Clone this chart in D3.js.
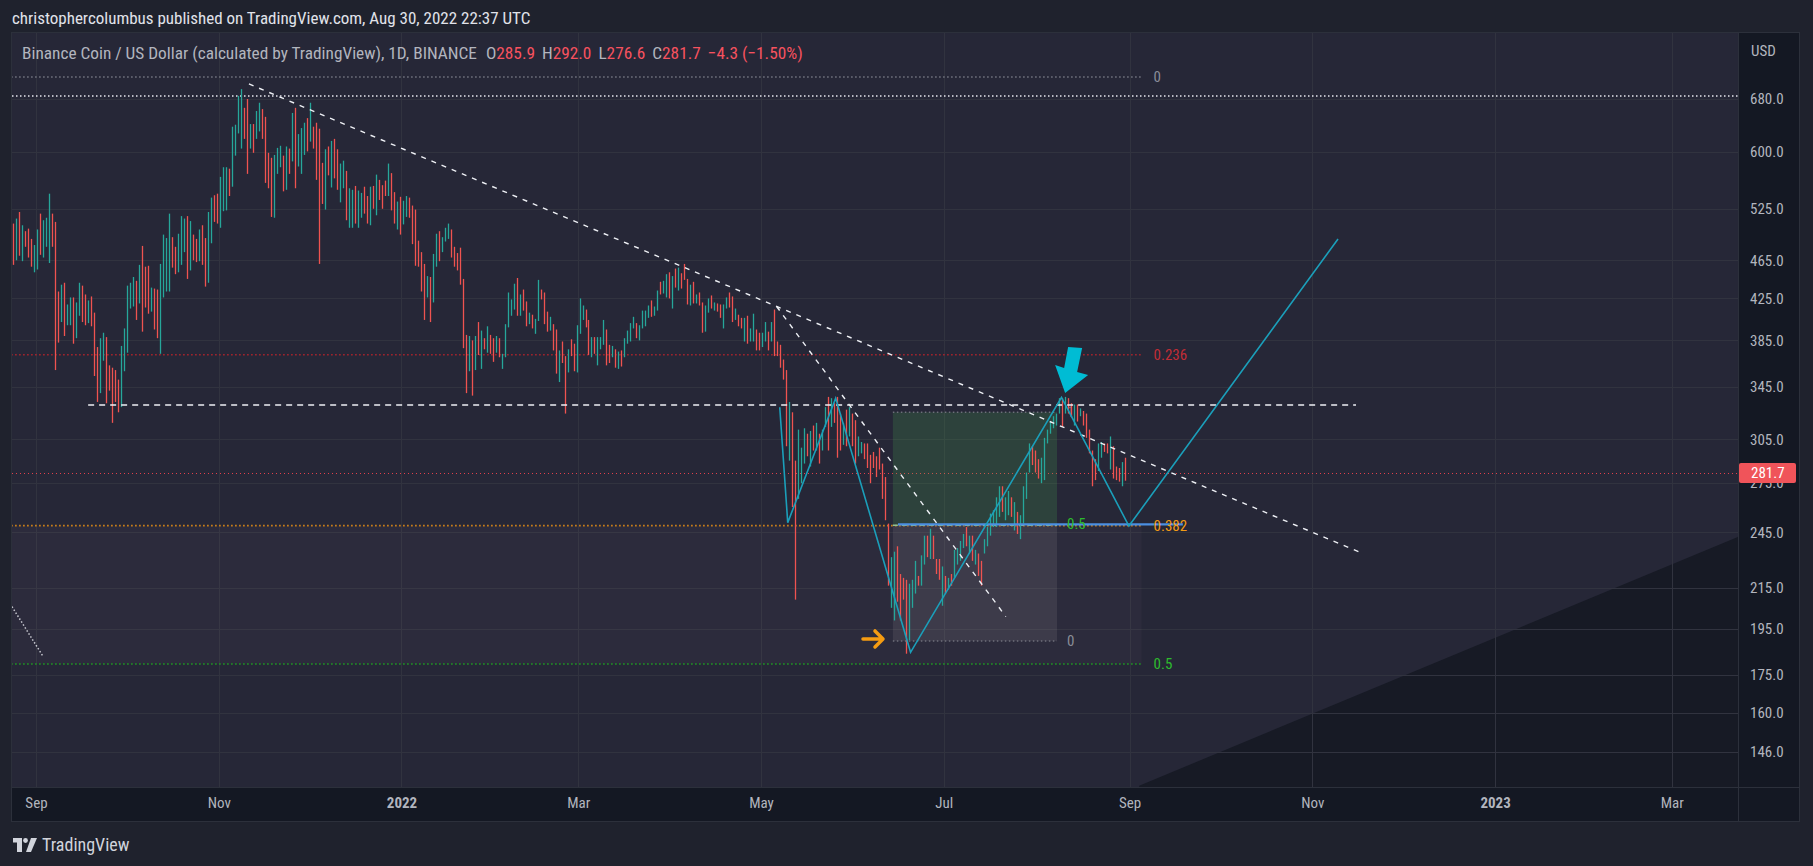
<!DOCTYPE html>
<html>
<head>
<meta charset="utf-8">
<script src="https://cdn.jsdelivr.net/npm/d3@7"></script>
<style>
  html, body { margin: 0; padding: 0; background: #1f222d; }
  svg { display: block; font-family: "Liberation Sans Narrow", "Roboto Condensed", Roboto, sans-serif; }
</style>
</head>
<body>
<svg id="chart" width="1813" height="866"></svg>
<script>
// ---- data ----
var firstBarDay = "2021-08-24";

var barHigh = [
  507,513,521,505,498,501,489,482,500,519,
  511,514,544,519,509,432,439,441,419,426,
  426,421,441,438,429,423,427,411,379,387,
  392,388,363,361,359,351,380,396,438,441,
  447,443,460,481,458,459,436,435,434,461,
  494,490,519,491,480,495,516,513,516,510,
  494,489,500,505,490,521,539,542,544,566,
  579,579,577,637,640,685,696,666,680,641,
  641,661,674,664,652,599,592,596,606,609,
  595,608,605,658,666,626,635,643,650,674,
  637,643,634,585,604,608,616,619,604,584,
  588,574,551,549,554,548,545,553,541,553,
  554,569,562,555,561,584,571,546,534,540,
  535,541,539,529,524,487,474,461,448,447,
  472,495,498,491,502,507,500,480,473,479,
  445,390,389,385,389,402,394,387,398,390,
  387,389,387,373,400,431,424,440,446,429,
  434,422,411,409,405,444,434,431,412,407,
  400,395,376,384,371,377,386,382,399,425,
  418,414,404,388,388,388,388,404,395,381,
  380,377,375,376,387,394,401,407,401,399,
  413,413,418,423,417,433,442,443,450,452,
  448,456,457,451,461,445,439,442,429,431,
  421,418,425,428,421,420,419,419,426,431,
  427,415,409,406,406,408,396,410,395,392,
  392,402,393,402,414,384,381,368,359,333,
  325,290,312,299,313,309,311,315,317,309,
  312,329,337,336,332,337,324,317,327,329,
  324,319,307,303,302,302,294,296,293,299,
  288,279,250,231,234,237,222,220,219,217,
  219,229,221,232,243,243,247,243,230,230,
  226,221,220,222,235,236,240,244,248,243,
  243,235,233,229,241,248,256,258,266,273,
  273,266,270,266,263,257,255,273,282,302,
  300,297,291,292,306,312,318,322,324,336,
  336,337,336,332,331,331,328,326,324,312,
  297,291,302,303,302,302,307,300,286,285,
  289,292
];

var barLow = [
  460,465,470,464,480,468,458,452,455,471,
  468,480,462,480,359,383,402,389,399,399,
  382,387,408,402,399,401,398,354,333,340,
  367,332,342,317,333,325,329,358,374,415,
  417,404,420,393,416,410,412,395,387,373,
  426,432,432,457,450,452,460,474,445,454,
  465,463,464,460,437,441,484,509,507,502,
  522,523,541,553,595,627,605,619,570,605,
  599,619,630,619,558,551,515,514,570,579,
  547,549,570,587,551,580,570,596,601,615,
  605,562,461,531,524,568,552,564,549,533,
  551,511,502,502,507,502,514,519,507,505,
  525,517,536,525,541,541,523,507,500,494,
  506,515,514,483,459,458,432,404,426,402,
  421,458,464,474,486,489,468,458,454,439,
  378,340,358,338,359,372,360,377,374,373,
  366,374,370,360,370,397,408,414,408,408,
  413,398,400,396,391,403,424,400,393,394,
  376,356,349,365,324,357,371,358,357,391,
  404,397,372,370,373,363,377,381,363,365,
  370,361,360,362,370,382,384,396,387,385,
  396,398,406,407,408,413,429,430,426,425,
  415,436,433,435,444,419,418,420,420,418,
  392,393,411,415,413,412,406,396,415,416,
  402,404,398,396,384,382,384,384,376,376,
  379,384,376,384,371,371,361,351,300,290,
  260,209,265,275,288,293,286,297,297,288,
  297,314,297,314,317,292,297,301,300,307,
  300,288,293,295,291,285,275,285,279,284,
  265,252,216,205,199,208,199,209,184,190,
  205,212,216,216,227,231,230,230,222,219,
  206,212,214,216,220,227,229,236,237,233,
  229,227,221,216,233,237,243,248,248,254,
  257,252,255,254,246,244,241,250,265,282,
  287,282,278,275,277,302,309,313,315,324,
  314,324,324,321,315,318,322,315,306,295,
  273,277,283,292,296,295,284,278,277,276,
  273,276.6
];

// 1 = closed up (green), 0 = closed down (red)
var barUp = [
  0,1,0,1,0,0,0,1,1,0,
  1,1,1,0,0,0,1,0,1,1,
  0,1,1,0,0,1,0,0,0,1,
  1,0,0,0,0,0,1,1,1,1,
  1,0,1,0,0,0,1,0,0,1,
  1,1,1,0,0,1,1,1,0,1,
  0,0,1,0,0,1,1,0,0,1,
  1,1,0,1,1,1,1,0,0,1,
  0,1,1,0,0,0,0,1,1,1,
  0,1,0,1,0,1,1,1,0,1,
  0,0,0,0,1,0,1,0,0,1,
  1,0,1,1,0,1,1,0,0,1,
  0,1,0,0,0,1,0,0,1,0,
  1,1,0,0,0,0,0,0,1,0,
  1,1,0,1,1,1,0,0,0,0,
  0,0,1,0,1,0,1,0,1,0,
  0,1,0,1,1,1,1,1,0,1,
  0,0,1,0,1,1,0,0,0,1,
  0,0,1,0,0,1,0,0,1,1,
  1,0,0,1,0,1,1,1,0,0,
  1,0,1,0,1,1,1,1,0,1,
  1,1,1,0,1,1,0,1,1,0,
  1,0,1,0,0,0,1,0,1,0,
  0,1,1,0,1,0,0,1,1,0,
  0,1,0,0,1,0,1,1,0,0,
  1,1,0,1,0,0,0,0,0,1,
  0,0,1,1,1,0,1,0,1,0,
  1,1,0,1,0,0,0,1,0,1,
  0,0,1,1,0,0,0,0,0,0,
  0,0,0,1,1,0,0,0,0,1,
  1,1,0,1,1,0,1,0,0,0,
  1,0,1,0,1,1,1,1,0,1,
  0,1,0,0,1,1,1,1,1,1,
  0,1,1,0,1,0,1,1,1,1,
  0,0,0,1,1,1,1,1,1,1,
  0,1,0,0,1,0,1,0,0,0,
  0,0,1,1,0,0,1,0,0,0,
  1,0
];

var priceTicks = [146, 160, 175, 195, 215, 245, 275, 305, 345, 385, 425, 465, 525, 600, 680];
var timeTickDates = ["2021-09-01", "2021-11-01", "2022-01-01", "2022-03-01", "2022-05-01",
                     "2022-07-01", "2022-09-01", "2022-11-01", "2023-01-01", "2023-03-01"];
var timeTickLabels = ["Sep", "Nov", "2022", "Mar", "May", "Jul", "Sep", "Nov", "2023", "Mar"];

// big fib retracement (log)
var fibLabels = ["0", "0.236", "0.382", "0.5"];
var fibPrices = [716.2, 372.2, 248.8, 179.6];
var fibSpan = ["2021-08-01", "2022-09-05"];

// small fib (long position box)
var boxLabels = ["0", "0.5", "1"];
var boxPrices = [189.6, 249.6, 325.0];
var boxSpan = ["2022-06-14", "2022-08-07T19:00"];

var athPrice = 684.8;
var lastPrice = 281.7;

var supportDates = ["2021-09-18T10:00", "2022-11-15T14:00"];
var supportPrice = 330.7;

var trendDownDates = ["2021-11-11T02:00", "2022-11-16T14:00"];
var trendDownPrices = [704.5, 233.9];
var trendSteepDates = ["2022-05-06T05:00", "2022-07-21T17:00"];
var trendSteepPrices = [417, 200.8];

var retestDates = ["2022-06-15T17:00", "2022-09-18T19:00"];
var retestPrice = 249.6;

var zigzagDates = ["2022-05-07T06:00", "2022-05-09T22:00", "2022-05-25T22:00", "2022-06-19T22:00",
                   "2022-08-09T07:00", "2022-08-31T19:00", "2022-11-09T14:00"];
var zigzagPrices = [328.9, 250.6, 335.9, 184.6, 336.7, 248.6, 488.9];

var shadeDates = ["2022-09-04T05:00", "2023-03-23T00:00"];
var shadePrices = [134.8, 242.3];

var leftDotDates = ["2021-08-24", "2021-09-03T10:00"];
var leftDotPrices = [205.6, 182.7];

var cyanArrowTip = ["2022-08-10T12:00", 340.1];
var orangeArrowTip = ["2022-06-10T17:00", 190.5];

var legendTitle = "Binance Coin / US Dollar (calculated by TradingView), 1D, BINANCE";
var legendKeys = ["O", "H", "L", "C"];
var legendVals = [285.9, 292.0, 276.6, 281.7];
var legendChange = "\u22124.3 (\u22121.50%)";

// ---- layout ----
var W = 1813, H = 866;
var plot = { left: 12, top: 33, right: 1738, bottom: 787 };
var axisRight = 1799, axisBottom = 821;
var FONT = "\"Liberation Sans Narrow\", \"Roboto Condensed\", Roboto, sans-serif";

var toDate = function (s) {
    return new Date(s.length === 10 ? s + "T00:00:00Z" : s + ":00Z");
};

var svg = d3.select("#chart");

var x = d3.scaleUtc()
    .domain([toDate("2021-08-24"), toDate("2023-03-23T02:00")])
    .range([plot.left, plot.right]);

var y = d3.scaleLog()
    .domain([134.4, 794.4])
    .range([plot.bottom, plot.top]);

var crisp = function (v) { return Math.round(v) + 0.5; };

// backgrounds
svg.append("rect").attr("width", W).attr("height", H).attr("fill", "#1f222d");
svg.append("rect")
    .attr("x", plot.left).attr("y", plot.top)
    .attr("width", axisRight - plot.left).attr("height", axisBottom - plot.top)
    .attr("fill", "#141823");
svg.append("rect")
    .attr("x", plot.left).attr("y", plot.top)
    .attr("width", plot.right - plot.left).attr("height", plot.bottom - plot.top)
    .attr("fill", "#262737");

svg.append("defs").append("clipPath").attr("id", "plotClip")
    .append("rect")
    .attr("x", plot.left).attr("y", plot.top)
    .attr("width", plot.right - plot.left).attr("height", plot.bottom - plot.top);

var g = svg.append("g").attr("clip-path", "url(#plotClip)");

// dark wedge bottom right
var wedge = [
    [toDate(shadeDates[0]), shadePrices[0]],
    [toDate(shadeDates[1]), shadePrices[1]],
    [d3.utcDay.offset(toDate(shadeDates[1]), 30), shadePrices[1] * 1.05],
    [d3.utcDay.offset(toDate(shadeDates[1]), 30), y.domain()[0] * 0.9],
    [toDate(shadeDates[0]), y.domain()[0] * 0.9]
];
g.append("path")
    .attr("d", d3.line().x(function (d) { return x(d[0]); }).y(function (d) { return y(d[1]); })(wedge) + "Z")
    .attr("fill", "#171a25");

// grid
g.selectAll("line.hgrid").data(priceTicks).join("line")
    .attr("x1", plot.left).attr("x2", plot.right)
    .attr("y1", function (d) { return crisp(y(d)); })
    .attr("y2", function (d) { return crisp(y(d)); })
    .attr("stroke", "#31333f").attr("stroke-width", 1);
g.selectAll("line.vgrid").data(timeTickDates).join("line")
    .attr("x1", function (d) { return crisp(x(toDate(d))); })
    .attr("x2", function (d) { return crisp(x(toDate(d))); })
    .attr("y1", plot.top).attr("y2", plot.bottom)
    .attr("stroke", "#31333f").attr("stroke-width", 1);

// big fib: band fill + lines
var fx0 = x(toDate(fibSpan[0])), fx1 = x(toDate(fibSpan[1]));
g.append("rect")
    .attr("x", fx0).attr("width", fx1 - fx0)
    .attr("y", y(fibPrices[2])).attr("height", y(fibPrices[3]) - y(fibPrices[2]))
    .attr("fill", "rgba(200,160,200,0.04)");

var fibLineColors = ["#70737f", "#a8242c", "#d68516", "#1f9a22"];
var fibTextColors = ["#8a8d97", "#c22d36", "#f29b16", "#2dbb2d"];
g.selectAll("line.fib").data(fibPrices).join("line")
    .attr("x1", fx0).attr("x2", fx1)
    .attr("y1", function (d) { return y(d); })
    .attr("y2", function (d) { return y(d); })
    .attr("stroke", function (d, i) { return fibLineColors[i]; })
    .attr("stroke-width", 1.6)
    .attr("stroke-dasharray", "1.6,2.4");

// ATH dotted line and current price line
g.append("line")
    .attr("x1", plot.left).attr("x2", plot.right)
    .attr("y1", y(athPrice)).attr("y2", y(athPrice))
    .attr("stroke", "#e8e8ee").attr("stroke-width", 1.5).attr("stroke-dasharray", "1.5,2.5");
g.append("line")
    .attr("x1", plot.left).attr("x2", plot.right)
    .attr("y1", crisp(y(lastPrice))).attr("y2", crisp(y(lastPrice)))
    .attr("stroke", "#e0404c").attr("stroke-width", 1).attr("stroke-dasharray", "1,3");

// small fib box
var bx0 = x(toDate(boxSpan[0])), bx1 = x(toDate(boxSpan[1]));
g.append("rect")
    .attr("x", bx0).attr("width", bx1 - bx0)
    .attr("y", y(boxPrices[2])).attr("height", y(boxPrices[1]) - y(boxPrices[2]))
    .attr("fill", "rgba(76,175,80,0.2)");
g.append("rect")
    .attr("x", bx0).attr("width", bx1 - bx0)
    .attr("y", y(boxPrices[1])).attr("height", y(boxPrices[0]) - y(boxPrices[1]))
    .attr("fill", "rgba(150,140,150,0.17)");
g.selectAll("line.box").data([boxPrices[0], boxPrices[2]]).join("line")
    .attr("x1", bx0).attr("x2", bx1)
    .attr("y1", function (d) { return y(d); })
    .attr("y2", function (d) { return y(d); })
    .attr("stroke", "#6d6f7a").attr("stroke-width", 1.5).attr("stroke-dasharray", "1.5,2.5");
g.append("line")
    .attr("x1", bx0).attr("x2", bx1)
    .attr("y1", y(boxPrices[1]) + 1).attr("y2", y(boxPrices[1]) + 1)
    .attr("stroke", "#8fc48f").attr("stroke-width", 1.5).attr("stroke-dasharray", "5,4");
g.append("text")
    .attr("x", bx1 + 10).attr("y", y(boxPrices[2]) + 5)
    .attr("fill", "#6d6f7a").attr("font-size", 15).text(boxLabels[2]);

// price bars
var bars = barHigh.map(function (h, i) {
    return {
        date: d3.utcHour.offset(d3.utcDay.offset(toDate(firstBarDay), i), 10),
        high: h, low: barLow[i], up: barUp[i] === 1
    };
});
g.selectAll("line.bar").data(bars).join("line")
    .attr("x1", function (d) { return crisp(x(d.date)); })
    .attr("x2", function (d) { return crisp(x(d.date)); })
    .attr("y1", function (d) { return y(d.high); })
    .attr("y2", function (d) { return y(d.low); })
    .attr("stroke", function (d) { return d.up ? "#26a69a" : "#ef5350"; })
    .attr("stroke-width", 1.3);

// white dashed lines
var seg = function (dates, prices, dash, width) {
    g.append("line")
        .attr("x1", x(toDate(dates[0]))).attr("y1", y(prices[0]))
        .attr("x2", x(toDate(dates[1]))).attr("y2", y(prices[1]))
        .attr("stroke", "#eef0f5").attr("stroke-width", width)
        .attr("stroke-dasharray", dash);
};
seg(supportDates, [supportPrice, supportPrice], "6,5", 1.5);
seg(trendDownDates, trendDownPrices, "5,6", 1.4);
seg(trendSteepDates, trendSteepPrices, "5,6", 1.4);
g.append("line")
    .attr("x1", x(toDate(leftDotDates[0]))).attr("y1", y(leftDotPrices[0]))
    .attr("x2", x(toDate(leftDotDates[1]))).attr("y2", y(leftDotPrices[1]))
    .attr("stroke", "#c8c9d0").attr("stroke-width", 1.5).attr("stroke-dasharray", "1.5,2");

// blue retest line
g.append("line")
    .attr("x1", x(toDate(retestDates[0]))).attr("x2", x(toDate(retestDates[1])))
    .attr("y1", y(retestPrice)).attr("y2", y(retestPrice))
    .attr("stroke", "#4b8fe2").attr("stroke-width", 2.2);

// zigzag projection
var zz = zigzagDates.map(function (d, i) { return [toDate(d), zigzagPrices[i]]; });
g.append("path")
    .attr("d", d3.line().x(function (d) { return x(d[0]); }).y(function (d) { return y(d[1]); })(zz))
    .attr("fill", "none").attr("stroke", "#1b9fba").attr("stroke-width", 1.6);

// arrows
var cx = x(toDate(cyanArrowTip[0])), cy = y(cyanArrowTip[1]);
var cyanShape = [[0, 0], [-10, -28], [-1, -25], [3, -46], [17, -45], [12, -21], [23, -18]];
g.append("polygon")
    .attr("points", cyanShape.map(function (p) { return (cx + p[0]) + "," + (cy + p[1]); }).join(" "))
    .attr("fill", "#00bcd4");
var ox = x(toDate(orangeArrowTip[0])), oy = y(orangeArrowTip[1]);
g.append("path")
    .attr("d", "M" + (ox - 20) + "," + oy + "H" + (ox - 1) +
        "M" + (ox - 8) + "," + (oy - 8) + "L" + ox + "," + oy + "L" + (ox - 8) + "," + (oy + 8))
    .attr("fill", "none").attr("stroke", "#f59c12").attr("stroke-width", 3.5)
    .attr("stroke-linecap", "round").attr("stroke-linejoin", "round");

// fib labels
g.selectAll("text.fib").data(fibPrices).join("text")
    .attr("x", fx1 + 12).attr("y", function (d) { return y(d) + 5; })
    .attr("fill", function (d, i) { return fibTextColors[i]; })
    .attr("font-size", 15)
    .text(function (d, i) { return fibLabels[i]; });
g.append("text")
    .attr("x", bx1 + 10).attr("y", y(boxPrices[0]) + 5)
    .attr("fill", "#8a8d97").attr("font-size", 15).text(boxLabels[0]);
g.append("text")
    .attr("x", bx1 + 10).attr("y", y(boxPrices[1]) + 5)
    .attr("fill", "#2dbb2d").attr("font-size", 15).text(boxLabels[1]);

// price axis
svg.append("line")
    .attr("x1", plot.right + 0.5).attr("x2", plot.right + 0.5)
    .attr("y1", plot.top).attr("y2", axisBottom)
    .attr("stroke", "#2c303b");
var yAxis = svg.append("g")
    .attr("transform", "translate(" + plot.right + ",0)")
    .call(d3.axisRight(y).tickValues(priceTicks).tickFormat(d3.format(".1f")).tickSize(0).tickPadding(12));
yAxis.select(".domain").remove();
yAxis.selectAll("text")
    .attr("fill", "#b2b5be").attr("font-size", 15)
    .attr("font-family", FONT);
svg.append("text").attr("x", 1751).attr("y", 56)
    .attr("fill", "#b2b5be").attr("font-size", 15).text("USD");

// last price tag
svg.append("rect")
    .attr("x", plot.right + 1).attr("y", y(lastPrice) - 10)
    .attr("width", 57).attr("height", 20).attr("rx", 2)
    .attr("fill", "#f0545a");
svg.append("text")
    .attr("x", 1751).attr("y", y(lastPrice) + 5)
    .attr("fill", "#ffffff").attr("font-size", 15).text(d3.format(".1f")(lastPrice));

// time axis
svg.append("line")
    .attr("x1", plot.left).attr("x2", axisRight)
    .attr("y1", plot.bottom + 0.5).attr("y2", plot.bottom + 0.5)
    .attr("stroke", "#2c303b");
var xAxis = svg.append("g")
    .attr("transform", "translate(0," + plot.bottom + ")")
    .call(d3.axisBottom(x).tickValues(timeTickDates.map(toDate)).tickSize(0).tickPadding(10)
        .tickFormat(function (d, i) { return timeTickLabels[i]; }));
xAxis.select(".domain").remove();
xAxis.selectAll("text")
    .attr("fill", "#b2b5be").attr("font-size", 15)
    .attr("font-family", FONT)
    .attr("font-weight", function (d, i) { return /^\d{4}$/.test(timeTickLabels[i]) ? "bold" : "normal"; });

// panel outline
svg.append("rect")
    .attr("x", plot.left - 0.5).attr("y", plot.top - 0.5)
    .attr("width", axisRight - plot.left + 1).attr("height", axisBottom - plot.top + 1)
    .attr("fill", "none").attr("stroke", "#2c303b");

// header and legend
svg.append("text").attr("x", 12).attr("y", 24)
    .attr("fill", "#e1e3ea").attr("font-size", 17)
    .text("christophercolumbus published on TradingView.com, Aug 30, 2022 22:37 UTC");

var legend = svg.append("text").attr("x", 22).attr("y", 59).attr("font-size", 17.3).attr("fill", "#b2b5be");
legend.append("tspan").text(legendTitle);
legendKeys.forEach(function (k, i) {
    legend.append("tspan").attr("dx", i ? 7 : 9).text(k);
    legend.append("tspan").attr("fill", "#f7525f").text(d3.format(".1f")(legendVals[i]));
});
legend.append("tspan").attr("dx", 7).attr("fill", "#f7525f").text(legendChange);

// TradingView mark
var logo = svg.append("g").attr("fill", "#d1d4dc");
logo.append("path").attr("d", "M13,838h9v14h-5v-9.5h-4z");
logo.append("circle").attr("cx", 25.5).attr("cy", 840.5).attr("r", 2.4);
logo.append("path").attr("d", "M31,838h6l-6,14h-5z");
svg.append("text").attr("x", 42).attr("y", 851)
    .attr("fill", "#d1d4dc").attr("font-size", 18).text("TradingView");
</script>
</body>
</html>
